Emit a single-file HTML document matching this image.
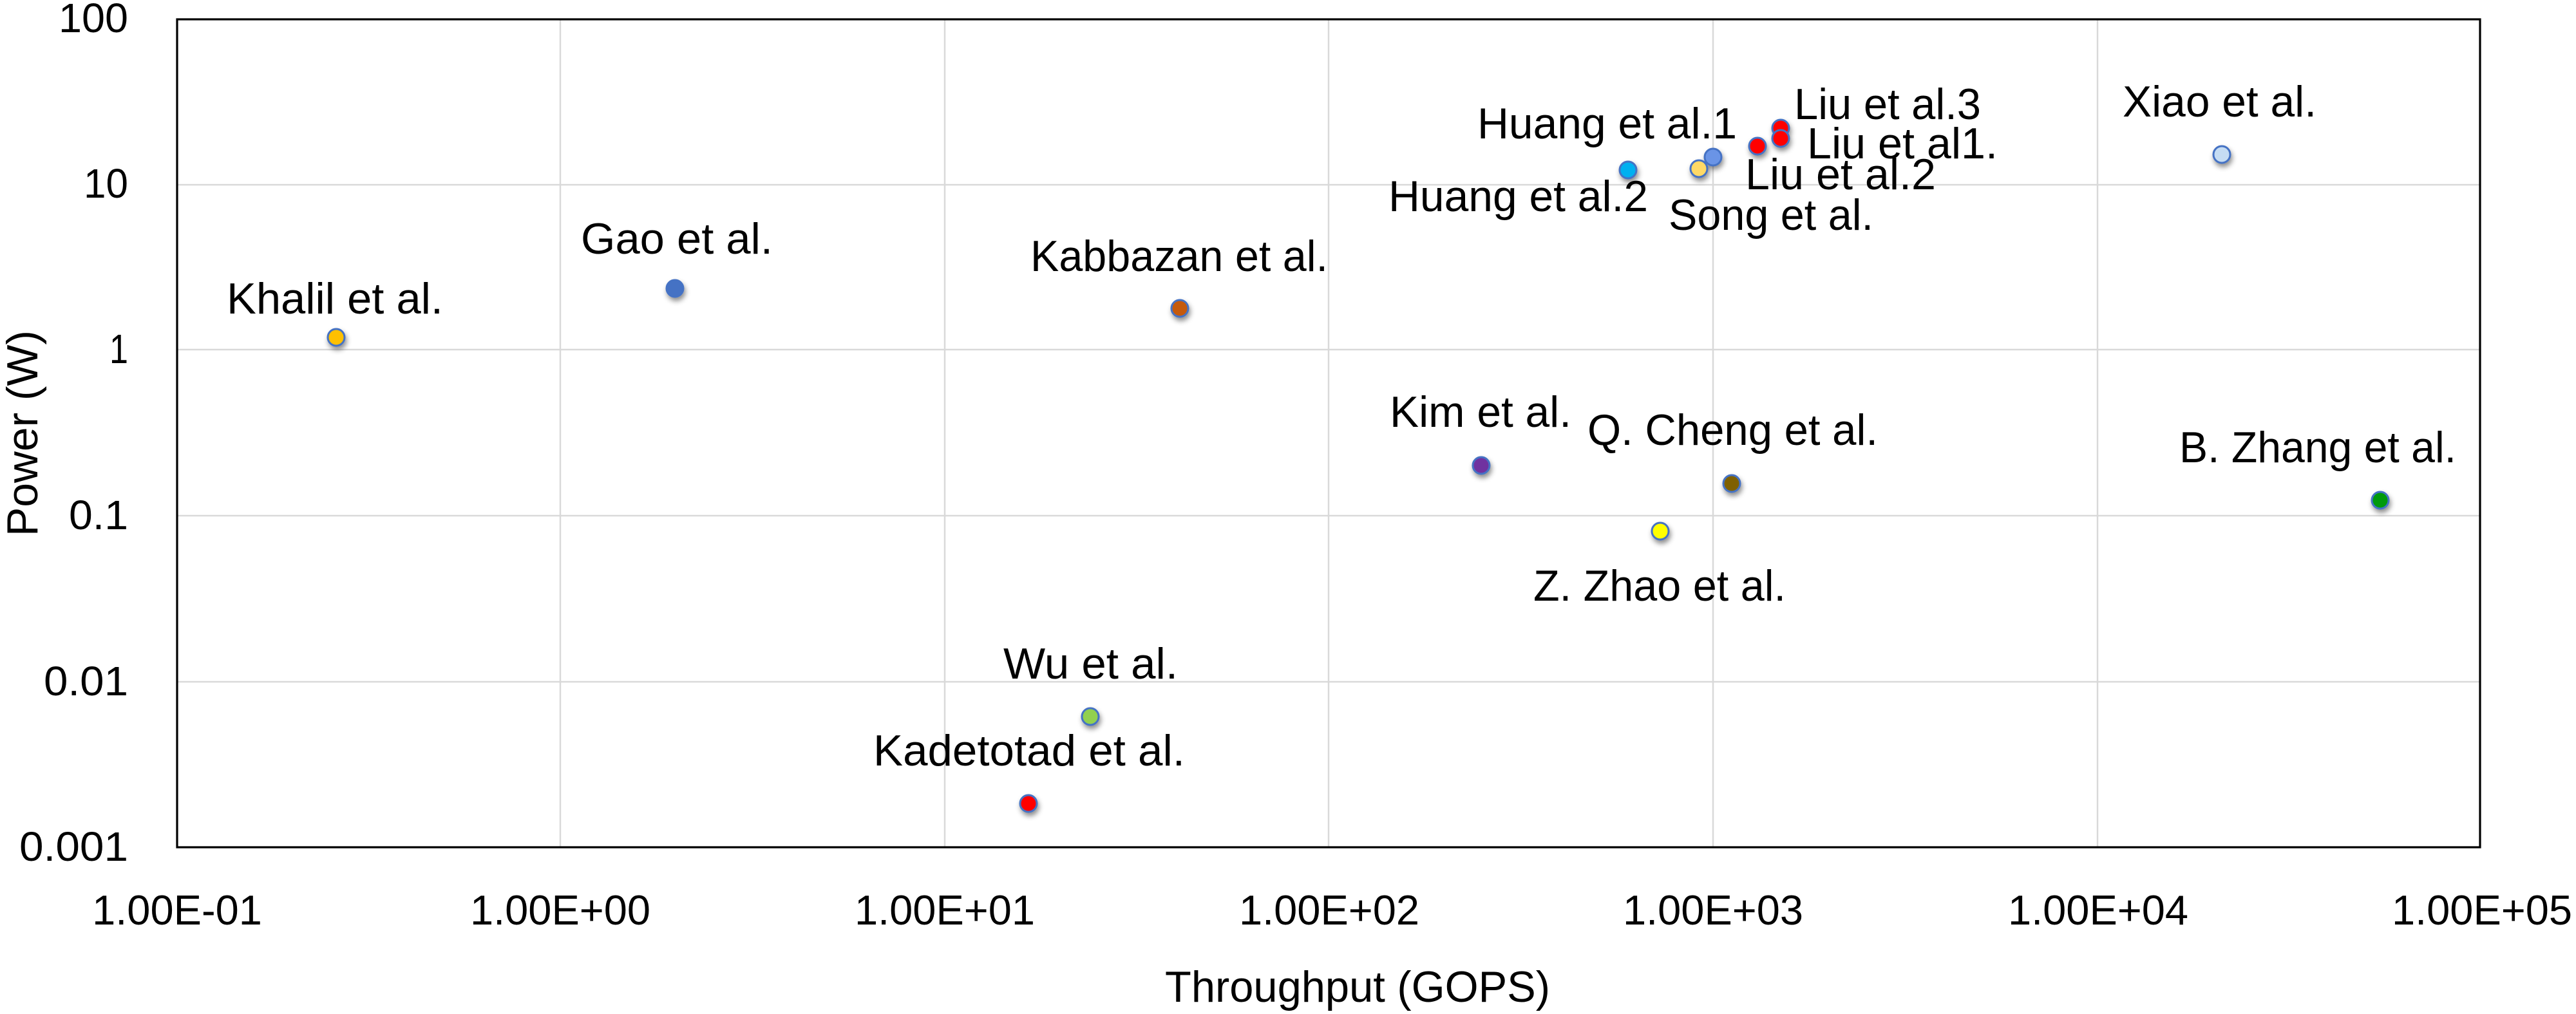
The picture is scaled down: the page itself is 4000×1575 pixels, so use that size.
<!DOCTYPE html>
<html>
<head>
<meta charset="utf-8">
<style>
  html, body { margin:0; padding:0; background:#ffffff; }
  body { width:4000px; height:1575px; overflow:hidden; }
  svg { display:block; }
  text { font-family: "Liberation Sans", Arial, sans-serif; fill:#000; }
</style>
</head>
<body>
<svg width="4000" height="1575" viewBox="0 0 4000 1575" xmlns="http://www.w3.org/2000/svg">
  <defs>
    <filter id="sh" x="-100%" y="-100%" width="300%" height="300%">
      <feDropShadow dx="2" dy="5" stdDeviation="4" flood-color="#000" flood-opacity="0.45"/>
    </filter>
  </defs>
  <rect x="0" y="0" width="4000" height="1575" fill="#fff"/>

  <!-- gridlines -->
  <g stroke="#d9d9d9" stroke-width="2.5">
    <line x1="870" y1="30" x2="870" y2="1316"/>
    <line x1="1467" y1="30" x2="1467" y2="1316"/>
    <line x1="2063" y1="30" x2="2063" y2="1316"/>
    <line x1="2660" y1="30" x2="2660" y2="1316"/>
    <line x1="3257" y1="30" x2="3257" y2="1316"/>
    <line x1="275" y1="287" x2="3851" y2="287"/>
    <line x1="275" y1="543" x2="3851" y2="543"/>
    <line x1="275" y1="801" x2="3851" y2="801"/>
    <line x1="275" y1="1059" x2="3851" y2="1059"/>
  </g>

  <!-- plot border -->
  <rect x="275" y="30" width="3576" height="1286" fill="none" stroke="#000" stroke-width="3.2"/>

  <!-- y tick labels -->
  <g font-size="64" text-anchor="end">
    <text x="199" y="50" textLength="108" lengthAdjust="spacingAndGlyphs">100</text>
    <text x="199" y="307" textLength="69" lengthAdjust="spacingAndGlyphs">10</text>
    <text x="199" y="564" textLength="29" lengthAdjust="spacingAndGlyphs">1</text>
    <text x="199" y="822" textLength="92" lengthAdjust="spacingAndGlyphs">0.1</text>
    <text x="199" y="1080" textLength="131" lengthAdjust="spacingAndGlyphs">0.01</text>
    <text x="199" y="1337" textLength="169" lengthAdjust="spacingAndGlyphs">0.001</text>
  </g>

  <!-- x tick labels -->
  <g font-size="65" text-anchor="middle">
    <text x="275" y="1436">1.00E-01</text>
    <text x="870" y="1436">1.00E+00</text>
    <text x="1467" y="1436">1.00E+01</text>
    <text x="2064" y="1436">1.00E+02</text>
    <text x="2660" y="1436">1.00E+03</text>
    <text x="3258" y="1436">1.00E+04</text>
    <text x="3854" y="1436">1.00E+05</text>
  </g>

  <!-- axis titles -->
  <text x="1809" y="1556" font-size="68" textLength="598" lengthAdjust="spacingAndGlyphs">Throughput (GOPS)</text>
  <text transform="translate(58,673) rotate(-90)" x="0" y="0" font-size="68" text-anchor="middle" textLength="320" lengthAdjust="spacingAndGlyphs">Power (W)</text>

  <!-- markers -->
  <g stroke="#4472C4" stroke-width="3" filter="url(#sh)">
    <circle cx="522" cy="524" r="13" fill="#FFC000"/>
    <circle cx="1048" cy="448" r="13" fill="#4472C4"/>
    <circle cx="1832" cy="479" r="13" fill="#C55A11"/>
    <circle cx="1693" cy="1113" r="13" fill="#92D050"/>
    <circle cx="1597" cy="1248" r="13" fill="#FF0000"/>
    <circle cx="2300" cy="723" r="13" fill="#7030A0"/>
    <circle cx="2689" cy="751" r="13" fill="#7F6000"/>
    <circle cx="2578" cy="825" r="13" fill="#FFFF00"/>
    <circle cx="2528" cy="264" r="13" fill="#00B0F0"/>
    <circle cx="2660" cy="244" r="13" fill="#6A94E6"/>
    <circle cx="2638" cy="262" r="13" fill="#FFD966"/>
    <circle cx="2729" cy="227" r="13" fill="#FF0000"/>
    <circle cx="2765" cy="199" r="13" fill="#FF0000"/>
    <circle cx="2765" cy="215" r="13" fill="#FF0000"/>
    <circle cx="3450" cy="240" r="13" fill="#C5DCF3"/>
    <circle cx="3696" cy="777" r="13" fill="#009A10"/>
  </g>

  <!-- data labels -->
  <g font-size="68">
    <text x="352" y="487" textLength="336" lengthAdjust="spacingAndGlyphs">Khalil et al.</text>
    <text x="902" y="394" textLength="298" lengthAdjust="spacingAndGlyphs">Gao et al.</text>
    <text x="1600" y="421" textLength="462" lengthAdjust="spacingAndGlyphs">Kabbazan et al.</text>
    <text x="1558" y="1054" textLength="271" lengthAdjust="spacingAndGlyphs">Wu et al.</text>
    <text x="1356" y="1189" textLength="484" lengthAdjust="spacingAndGlyphs">Kadetotad et al.</text>
    <text x="2158" y="663" textLength="282" lengthAdjust="spacingAndGlyphs">Kim et al.</text>
    <text x="2465" y="691" textLength="451" lengthAdjust="spacingAndGlyphs">Q. Cheng et al.</text>
    <text x="2381" y="933" textLength="392" lengthAdjust="spacingAndGlyphs">Z. Zhao et al.</text>
    <text x="2294" y="215" textLength="403" lengthAdjust="spacingAndGlyphs">Huang et al.1</text>
    <text x="2156" y="328" textLength="403" lengthAdjust="spacingAndGlyphs">Huang et al.2</text>
    <text x="2591" y="357" textLength="318" lengthAdjust="spacingAndGlyphs">Song et al.</text>
    <text x="2710" y="294" textLength="296" lengthAdjust="spacingAndGlyphs">Liu et al.2</text>
    <text x="2806" y="246" textLength="296" lengthAdjust="spacingAndGlyphs">Liu et al1.</text>
    <text x="2786" y="185" textLength="290" lengthAdjust="spacingAndGlyphs">Liu et al.3</text>
    <text x="3296" y="181" textLength="301" lengthAdjust="spacingAndGlyphs">Xiao et al.</text>
    <text x="3384" y="718" textLength="430" lengthAdjust="spacingAndGlyphs">B. Zhang et al.</text>
  </g>
</svg>
</body>
</html>
